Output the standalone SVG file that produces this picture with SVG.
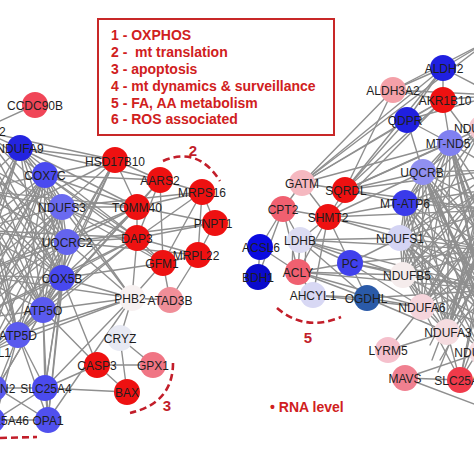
<svg xmlns="http://www.w3.org/2000/svg" width="474" height="474" viewBox="0 0 474 474">
<style>
.e line{stroke:#8f8f8f;stroke-width:1.4;stroke-linecap:round}
.node text{font-family:"Liberation Sans",Arial,sans-serif;font-size:12px;fill:#1e1e1e;text-anchor:middle}
.leg{font-family:"Liberation Sans",Arial,sans-serif;font-size:14px;font-weight:bold;fill:#d02020}
.arc{fill:none;stroke:#c21e2a;stroke-width:2.6;stroke-dasharray:7 4}
.num{font-family:"Liberation Sans",Arial,sans-serif;font-size:15px;font-weight:bold;fill:#c21e2a;text-anchor:middle}
</style>
<rect width="474" height="474" fill="#fff"/>
<g id="connectors" class="e">
<!-- left mesh -->
<line x1="35" y1="105" x2="-15" y2="128"/>
<line x1="20" y1="148" x2="45" y2="175"/><line x1="20" y1="148" x2="62" y2="207"/><line x1="20" y1="148" x2="67" y2="242"/><line x1="20" y1="148" x2="62" y2="278"/><line x1="20" y1="148" x2="43" y2="310"/>
<line x1="45" y1="175" x2="62" y2="207"/><line x1="45" y1="175" x2="67" y2="242"/><line x1="45" y1="175" x2="62" y2="278"/><line x1="45" y1="175" x2="43" y2="310"/><line x1="45" y1="175" x2="18" y2="335"/>
<line x1="62" y1="207" x2="67" y2="242"/><line x1="62" y1="207" x2="62" y2="278"/><line x1="62" y1="207" x2="43" y2="310"/><line x1="62" y1="207" x2="18" y2="335"/>
<line x1="67" y1="242" x2="62" y2="278"/><line x1="67" y1="242" x2="43" y2="310"/><line x1="67" y1="242" x2="18" y2="335"/>
<line x1="62" y1="278" x2="43" y2="310"/><line x1="62" y1="278" x2="18" y2="335"/><line x1="43" y1="310" x2="18" y2="335"/>
<line x1="-18" y1="131" x2="20" y2="148"/><line x1="-18" y1="131" x2="45" y2="175"/><line x1="-18" y1="131" x2="62" y2="207"/><line x1="-18" y1="131" x2="67" y2="242"/><line x1="-18" y1="131" x2="62" y2="278"/><line x1="-18" y1="131" x2="43" y2="310"/>
<line x1="-25" y1="190" x2="20" y2="148"/><line x1="-25" y1="190" x2="45" y2="175"/><line x1="-25" y1="190" x2="62" y2="207"/><line x1="-25" y1="190" x2="67" y2="242"/><line x1="-25" y1="190" x2="62" y2="278"/><line x1="-25" y1="190" x2="43" y2="310"/><line x1="-25" y1="190" x2="18" y2="335"/>
<line x1="-25" y1="230" x2="20" y2="148"/><line x1="-25" y1="230" x2="45" y2="175"/><line x1="-25" y1="230" x2="62" y2="207"/><line x1="-25" y1="230" x2="67" y2="242"/><line x1="-25" y1="230" x2="62" y2="278"/><line x1="-25" y1="230" x2="43" y2="310"/><line x1="-25" y1="230" x2="18" y2="335"/>
<line x1="-25" y1="275" x2="20" y2="148"/><line x1="-25" y1="275" x2="45" y2="175"/><line x1="-25" y1="275" x2="62" y2="207"/><line x1="-25" y1="275" x2="67" y2="242"/><line x1="-25" y1="275" x2="62" y2="278"/><line x1="-25" y1="275" x2="43" y2="310"/><line x1="-25" y1="275" x2="18" y2="335"/>
<line x1="-30" y1="320" x2="45" y2="175"/><line x1="-30" y1="320" x2="62" y2="207"/><line x1="-30" y1="320" x2="67" y2="242"/><line x1="-30" y1="320" x2="62" y2="278"/><line x1="-30" y1="320" x2="43" y2="310"/>
<line x1="-12" y1="352" x2="45" y2="175"/><line x1="-12" y1="352" x2="62" y2="207"/><line x1="-12" y1="352" x2="67" y2="242"/><line x1="-12" y1="352" x2="62" y2="278"/><line x1="-12" y1="352" x2="43" y2="310"/><line x1="-12" y1="352" x2="18" y2="335"/>
<line x1="-25" y1="160" x2="62" y2="207"/><line x1="-25" y1="160" x2="67" y2="242"/><line x1="-25" y1="160" x2="62" y2="278"/><line x1="-25" y1="160" x2="43" y2="310"/><line x1="-25" y1="160" x2="18" y2="335"/>
<line x1="-25" y1="300" x2="20" y2="148"/><line x1="-25" y1="300" x2="45" y2="175"/><line x1="-25" y1="300" x2="62" y2="207"/><line x1="-25" y1="300" x2="67" y2="242"/>
<line x1="-20" y1="210" x2="43" y2="310"/><line x1="-20" y1="210" x2="62" y2="278"/><line x1="-20" y1="250" x2="45" y2="175"/><line x1="-20" y1="250" x2="20" y2="148"/><line x1="-20" y1="340" x2="62" y2="207"/><line x1="-20" y1="340" x2="45" y2="175"/><line x1="-20" y1="145" x2="62" y2="278"/><line x1="-20" y1="145" x2="18" y2="335"/>
<!-- left to cluster 2 -->
<line x1="20" y1="148" x2="115" y2="160"/><line x1="20" y1="148" x2="137" y2="207"/><line x1="20" y1="148" x2="137" y2="238"/><line x1="20" y1="148" x2="160" y2="180"/>
<line x1="45" y1="175" x2="115" y2="160"/><line x1="45" y1="175" x2="137" y2="207"/><line x1="45" y1="175" x2="137" y2="238"/><line x1="45" y1="175" x2="132" y2="298"/><line x1="45" y1="175" x2="160" y2="180"/><line x1="45" y1="175" x2="163" y2="263"/>
<line x1="62" y1="207" x2="115" y2="160"/><line x1="62" y1="207" x2="137" y2="207"/><line x1="62" y1="207" x2="137" y2="238"/><line x1="62" y1="207" x2="132" y2="298"/><line x1="62" y1="207" x2="202" y2="192"/><line x1="62" y1="207" x2="163" y2="263"/>
<line x1="67" y1="242" x2="115" y2="160"/><line x1="67" y1="242" x2="137" y2="207"/><line x1="67" y1="242" x2="137" y2="238"/><line x1="67" y1="242" x2="132" y2="298"/><line x1="67" y1="242" x2="215" y2="223"/><line x1="67" y1="242" x2="198" y2="255"/>
<line x1="62" y1="278" x2="115" y2="160"/><line x1="62" y1="278" x2="137" y2="207"/><line x1="62" y1="278" x2="137" y2="238"/><line x1="62" y1="278" x2="132" y2="298"/><line x1="62" y1="278" x2="163" y2="263"/>
<line x1="43" y1="310" x2="115" y2="160"/><line x1="43" y1="310" x2="137" y2="207"/><line x1="43" y1="310" x2="137" y2="238"/><line x1="43" y1="310" x2="132" y2="298"/><line x1="43" y1="310" x2="160" y2="180"/>
<line x1="18" y1="335" x2="137" y2="207"/><line x1="18" y1="335" x2="137" y2="238"/><line x1="18" y1="335" x2="132" y2="298"/><line x1="18" y1="335" x2="115" y2="160"/>
<line x1="-25" y1="190" x2="137" y2="207"/><line x1="-25" y1="230" x2="137" y2="238"/><line x1="-25" y1="230" x2="115" y2="160"/><line x1="-25" y1="275" x2="132" y2="298"/><line x1="-25" y1="275" x2="137" y2="207"/><line x1="-18" y1="131" x2="115" y2="160"/><line x1="-12" y1="352" x2="132" y2="298"/><line x1="-30" y1="320" x2="137" y2="238"/>
<!-- cluster 2 internal -->
<line x1="115" y1="160" x2="137" y2="207"/><line x1="115" y1="160" x2="160" y2="180"/><line x1="160" y1="180" x2="137" y2="207"/><line x1="160" y1="180" x2="202" y2="192"/><line x1="160" y1="180" x2="137" y2="238"/><line x1="160" y1="180" x2="163" y2="263"/>
<line x1="137" y1="207" x2="202" y2="192"/><line x1="137" y1="207" x2="215" y2="223"/><line x1="137" y1="207" x2="137" y2="238"/><line x1="137" y1="238" x2="202" y2="192"/><line x1="137" y1="238" x2="215" y2="223"/><line x1="137" y1="238" x2="198" y2="255"/><line x1="137" y1="238" x2="163" y2="263"/>
<line x1="163" y1="263" x2="198" y2="255"/><line x1="163" y1="263" x2="170" y2="300"/><line x1="202" y1="192" x2="215" y2="223"/><line x1="202" y1="192" x2="198" y2="255"/><line x1="215" y1="223" x2="198" y2="255"/><line x1="202" y1="192" x2="163" y2="263"/>
<line x1="132" y1="298" x2="170" y2="300"/><line x1="132" y1="298" x2="163" y2="263"/><line x1="132" y1="298" x2="137" y2="238"/><line x1="132" y1="298" x2="120" y2="338"/><line x1="170" y1="300" x2="198" y2="255"/>
<!-- cluster 3 -->
<line x1="120" y1="338" x2="153" y2="365"/><line x1="120" y1="338" x2="127" y2="392"/><line x1="97" y1="365" x2="153" y2="365"/><line x1="97" y1="365" x2="127" y2="392"/><line x1="45" y1="388" x2="127" y2="392"/><line x1="45" y1="388" x2="97" y2="365"/><line x1="97" y1="365" x2="62" y2="278"/><line x1="97" y1="365" x2="43" y2="310"/>
<!-- lower left -->
<line x1="45" y1="388" x2="48" y2="420"/><line x1="-3" y1="388" x2="45" y2="388"/><line x1="-5" y1="420" x2="48" y2="420"/><line x1="-3" y1="388" x2="48" y2="420"/><line x1="-5" y1="420" x2="45" y2="388"/>
<line x1="45" y1="388" x2="43" y2="310"/><line x1="45" y1="388" x2="18" y2="335"/><line x1="45" y1="388" x2="62" y2="278"/><line x1="48" y1="420" x2="43" y2="310"/><line x1="48" y1="420" x2="18" y2="335"/><line x1="48" y1="420" x2="62" y2="278"/>
<line x1="45" y1="388" x2="132" y2="298"/><line x1="48" y1="420" x2="132" y2="298"/><line x1="45" y1="388" x2="67" y2="242"/><line x1="48" y1="420" x2="67" y2="242"/><line x1="-3" y1="388" x2="18" y2="335"/><line x1="-3" y1="388" x2="43" y2="310"/><line x1="-5" y1="420" x2="18" y2="335"/><line x1="-3" y1="388" x2="62" y2="278"/>
<!-- right mesh -->
<line x1="450" y1="143" x2="423" y2="172"/><line x1="450" y1="143" x2="405" y2="203"/><line x1="450" y1="143" x2="400" y2="238"/><line x1="450" y1="143" x2="403" y2="275"/><line x1="450" y1="143" x2="422" y2="307"/><line x1="450" y1="143" x2="447" y2="332"/>
<line x1="450" y1="143" x2="495" y2="170"/><line x1="450" y1="143" x2="495" y2="210"/><line x1="450" y1="143" x2="495" y2="250"/><line x1="450" y1="143" x2="495" y2="290"/>
<line x1="423" y1="172" x2="405" y2="203"/><line x1="423" y1="172" x2="400" y2="238"/><line x1="423" y1="172" x2="403" y2="275"/><line x1="423" y1="172" x2="422" y2="307"/><line x1="423" y1="172" x2="447" y2="332"/>
<line x1="423" y1="172" x2="495" y2="170"/><line x1="423" y1="172" x2="495" y2="210"/><line x1="423" y1="172" x2="495" y2="250"/><line x1="423" y1="172" x2="495" y2="290"/><line x1="423" y1="172" x2="495" y2="325"/>
<line x1="405" y1="203" x2="400" y2="238"/><line x1="405" y1="203" x2="403" y2="275"/><line x1="405" y1="203" x2="422" y2="307"/><line x1="405" y1="203" x2="447" y2="332"/><line x1="405" y1="203" x2="495" y2="170"/><line x1="405" y1="203" x2="495" y2="210"/><line x1="405" y1="203" x2="495" y2="250"/><line x1="405" y1="203" x2="495" y2="290"/><line x1="405" y1="203" x2="495" y2="325"/><line x1="405" y1="203" x2="482" y2="128"/>
<line x1="400" y1="238" x2="403" y2="275"/><line x1="400" y1="238" x2="422" y2="307"/><line x1="400" y1="238" x2="447" y2="332"/><line x1="400" y1="238" x2="495" y2="170"/><line x1="400" y1="238" x2="495" y2="210"/><line x1="400" y1="238" x2="495" y2="250"/><line x1="400" y1="238" x2="495" y2="290"/><line x1="400" y1="238" x2="495" y2="325"/><line x1="400" y1="238" x2="482" y2="352"/>
<line x1="403" y1="275" x2="422" y2="307"/><line x1="403" y1="275" x2="447" y2="332"/><line x1="403" y1="275" x2="495" y2="170"/><line x1="403" y1="275" x2="495" y2="210"/><line x1="403" y1="275" x2="495" y2="250"/><line x1="403" y1="275" x2="495" y2="290"/><line x1="403" y1="275" x2="495" y2="325"/><line x1="403" y1="275" x2="482" y2="128"/>
<line x1="422" y1="307" x2="447" y2="332"/><line x1="422" y1="307" x2="495" y2="170"/><line x1="422" y1="307" x2="495" y2="210"/><line x1="422" y1="307" x2="495" y2="250"/><line x1="422" y1="307" x2="495" y2="290"/><line x1="422" y1="307" x2="495" y2="325"/>
<line x1="447" y1="332" x2="495" y2="210"/><line x1="447" y1="332" x2="495" y2="250"/><line x1="447" y1="332" x2="495" y2="290"/><line x1="447" y1="332" x2="495" y2="170"/>
<line x1="482" y1="128" x2="423" y2="172"/><line x1="482" y1="128" x2="400" y2="238"/><line x1="482" y1="352" x2="405" y2="203"/><line x1="482" y1="352" x2="423" y2="172"/><line x1="482" y1="352" x2="403" y2="275"/>
<line x1="460" y1="380" x2="447" y2="332"/><line x1="460" y1="380" x2="495" y2="290"/><line x1="460" y1="380" x2="495" y2="325"/><line x1="460" y1="380" x2="422" y2="307"/>
<line x1="485" y1="190" x2="405" y2="203"/><line x1="485" y1="190" x2="400" y2="238"/><line x1="485" y1="190" x2="403" y2="275"/><line x1="485" y1="190" x2="422" y2="307"/><line x1="485" y1="190" x2="447" y2="332"/><line x1="485" y1="190" x2="482" y2="352"/>
<line x1="485" y1="270" x2="423" y2="172"/><line x1="485" y1="270" x2="450" y2="143"/><line x1="485" y1="270" x2="400" y2="238"/><line x1="485" y1="270" x2="422" y2="307"/><line x1="485" y1="270" x2="447" y2="332"/><line x1="485" y1="270" x2="460" y2="380"/>
<line x1="485" y1="230" x2="450" y2="143"/><line x1="485" y1="230" x2="403" y2="275"/><line x1="485" y1="230" x2="447" y2="332"/><line x1="485" y1="230" x2="422" y2="307"/><line x1="485" y1="230" x2="482" y2="352"/>
<line x1="485" y1="310" x2="423" y2="172"/><line x1="485" y1="310" x2="405" y2="203"/><line x1="485" y1="310" x2="450" y2="143"/><line x1="485" y1="310" x2="400" y2="238"/>
<line x1="490" y1="160" x2="447" y2="332"/><line x1="490" y1="160" x2="422" y2="307"/><line x1="490" y1="345" x2="450" y2="143"/><line x1="490" y1="345" x2="423" y2="172"/><line x1="490" y1="345" x2="400" y2="238"/>
<line x1="500" y1="180" x2="432" y2="360"/><line x1="500" y1="360" x2="432" y2="185"/><line x1="505" y1="200" x2="430" y2="345"/><line x1="505" y1="330" x2="430" y2="195"/><line x1="500" y1="220" x2="438" y2="372"/><line x1="500" y1="300" x2="436" y2="190"/><line x1="505" y1="250" x2="440" y2="360"/><line x1="505" y1="260" x2="440" y2="185"/>
<line x1="495" y1="215" x2="447" y2="332"/><line x1="495" y1="335" x2="423" y2="172"/><line x1="495" y1="200" x2="460" y2="380"/><line x1="495" y1="280" x2="450" y2="143"/>
<!-- top right -->
<line x1="450" y1="143" x2="443" y2="100"/><line x1="450" y1="143" x2="407" y2="120"/><line x1="423" y1="172" x2="407" y2="120"/><line x1="407" y1="120" x2="495" y2="95"/><line x1="407" y1="120" x2="443" y2="68"/><line x1="407" y1="120" x2="443" y2="100"/>
<line x1="393" y1="90" x2="443" y2="68"/><line x1="393" y1="90" x2="443" y2="100"/><line x1="393" y1="90" x2="495" y2="95"/><line x1="393" y1="90" x2="490" y2="40"/><line x1="443" y1="68" x2="443" y2="100"/><line x1="443" y1="68" x2="490" y2="40"/><line x1="443" y1="68" x2="495" y2="95"/><line x1="443" y1="100" x2="495" y2="95"/><line x1="443" y1="100" x2="495" y2="170"/>
<line x1="393" y1="90" x2="302" y2="183"/><line x1="393" y1="90" x2="345" y2="190"/><line x1="407" y1="120" x2="345" y2="190"/><line x1="407" y1="120" x2="302" y2="183"/><line x1="443" y1="68" x2="302" y2="183"/><line x1="443" y1="100" x2="302" y2="183"/><line x1="443" y1="100" x2="345" y2="190"/><line x1="443" y1="68" x2="345" y2="190"/><line x1="490" y1="40" x2="302" y2="183"/><line x1="450" y1="143" x2="302" y2="183"/><line x1="443" y1="100" x2="328" y2="217"/>
<!-- cluster 5 to right -->
<line x1="345" y1="190" x2="450" y2="143"/><line x1="345" y1="190" x2="423" y2="172"/><line x1="345" y1="190" x2="495" y2="170"/><line x1="345" y1="190" x2="495" y2="210"/><line x1="345" y1="190" x2="482" y2="128"/><line x1="345" y1="190" x2="405" y2="203"/>
<line x1="328" y1="217" x2="405" y2="203"/><line x1="328" y1="217" x2="400" y2="238"/><line x1="328" y1="217" x2="495" y2="210"/><line x1="328" y1="217" x2="495" y2="250"/><line x1="328" y1="217" x2="423" y2="172"/>
<line x1="300" y1="240" x2="400" y2="238"/><line x1="300" y1="240" x2="403" y2="275"/><line x1="300" y1="240" x2="495" y2="250"/><line x1="300" y1="240" x2="495" y2="290"/>
<line x1="350" y1="263" x2="403" y2="275"/><line x1="350" y1="263" x2="422" y2="307"/><line x1="350" y1="263" x2="495" y2="290"/><line x1="350" y1="263" x2="400" y2="238"/><line x1="350" y1="263" x2="495" y2="250"/>
<line x1="298" y1="272" x2="403" y2="275"/><line x1="298" y1="272" x2="495" y2="290"/><line x1="298" y1="272" x2="350" y2="263"/><line x1="298" y1="272" x2="422" y2="307"/>
<line x1="367" y1="298" x2="422" y2="307"/><line x1="367" y1="298" x2="447" y2="332"/><line x1="367" y1="298" x2="495" y2="290"/><line x1="313" y1="295" x2="367" y2="298"/><line x1="313" y1="295" x2="422" y2="307"/>
<line x1="388" y1="350" x2="422" y2="307"/><line x1="388" y1="350" x2="447" y2="332"/><line x1="405" y1="378" x2="482" y2="352"/><line x1="405" y1="378" x2="460" y2="380"/><line x1="405" y1="378" x2="490" y2="410"/>
<!-- cluster 5 internal -->
<line x1="302" y1="183" x2="328" y2="217"/><line x1="302" y1="183" x2="345" y2="190"/><line x1="302" y1="183" x2="283" y2="209"/><line x1="283" y1="209" x2="300" y2="240"/><line x1="283" y1="209" x2="260" y2="247"/><line x1="283" y1="209" x2="298" y2="272"/><line x1="283" y1="209" x2="328" y2="217"/><line x1="283" y1="209" x2="258" y2="277"/>
<line x1="328" y1="217" x2="300" y2="240"/><line x1="328" y1="217" x2="298" y2="272"/><line x1="328" y1="217" x2="350" y2="263"/><line x1="345" y1="190" x2="328" y2="217"/>
<line x1="300" y1="240" x2="298" y2="272"/><line x1="293" y1="240" x2="292" y2="272"/><line x1="306" y1="240" x2="305" y2="272"/><line x1="260" y1="247" x2="258" y2="277"/><line x1="260" y1="247" x2="298" y2="272"/><line x1="298" y1="272" x2="313" y2="295"/>
<line x1="300" y1="240" x2="350" y2="263"/><line x1="350" y1="263" x2="367" y2="298"/><line x1="298" y1="272" x2="367" y2="298"/><line x1="300" y1="240" x2="367" y2="298"/><line x1="328" y1="217" x2="313" y2="295"/>
</g>
<!-- dashed group arcs -->
<path class="arc" d="M163 161 Q198 146 220 181"/>
<path class="arc" d="M173 363 Q173 403 130 413"/>
<path class="arc" d="M277 308 Q305 332 341 317"/>
<path class="arc" d="M0 438 L37 437"/>
<text class="num" x="193" y="156">2</text>
<text class="num" x="167" y="411">3</text>
<text class="num" x="308" y="343">5</text>
<!-- legend -->
<g id="legend">
<rect x="98" y="19" width="236" height="116" fill="#fff" stroke="#c82828" stroke-width="2"/>
<text class="leg" x="111" y="40">1 - OXPHOS</text>
<text class="leg" x="111" y="57" xml:space="preserve">2 -  mt translation</text>
<text class="leg" x="111" y="74">3 - apoptosis</text>
<text class="leg" x="111" y="91">4 - mt dynamics &amp; surveillance</text>
<text class="leg" x="111" y="108">5 - FA, AA metabolism</text>
<text class="leg" x="111" y="124">6 - ROS associated</text>
</g>
<text class="leg" x="270" y="412">• RNA level</text>
<!-- left nodes -->
<g id="n-ccdc90b" class="node"><circle cx="35" cy="105" r="13" fill="#f04658"/><text x="35" y="110">CCDC90B</text></g>
<g id="n-ndufa2" class="node"><circle cx="-18" cy="131" r="13" fill="#5a5aee"/><text x="-18" y="136">NDUFA2</text></g>
<g id="n-ndufa9" class="node"><circle cx="20" cy="148" r="13" fill="#2424e0"/><text x="20" y="153">NDUFA9</text></g>
<g id="n-cox7c" class="node"><circle cx="45" cy="175" r="13" fill="#4a4af0"/><text x="45" y="180">COX7C</text></g>
<g id="n-ndufs3" class="node"><circle cx="62" cy="207" r="13" fill="#6a6af0"/><text x="62" y="212">NDUFS3</text></g>
<g id="n-uqcrc2" class="node"><circle cx="67" cy="242" r="13" fill="#6464ee"/><text x="67" y="247">UQCRC2</text></g>
<g id="n-cox5b" class="node"><circle cx="62" cy="278" r="13" fill="#4848ee"/><text x="62" y="283">COX5B</text></g>
<g id="n-atp5o" class="node"><circle cx="43" cy="310" r="13" fill="#5a5aee"/><text x="43" y="315">ATP5O</text></g>
<g id="n-atp5d" class="node"><circle cx="18" cy="335" r="13" fill="#5a5aee"/><text x="18" y="340">ATP5D</text></g>
<g id="n-yme1l1" class="node"><circle cx="-22" cy="352" r="13" fill="#6a6af0"/><text x="-12" y="357">YME1L1</text></g>
<g id="n-mfn2" class="node"><circle cx="-6" cy="388" r="13" fill="#5a5aee"/><text x="-1" y="393">MFN2</text></g>
<g id="n-slc25a46" class="node"><circle cx="-8" cy="420" r="13" fill="#5050ee"/><text x="0" y="425">SLC25A46</text></g>
<g id="n-slc25a4" class="node"><circle cx="45" cy="388" r="13" fill="#4b4bee"/><text x="46" y="393">SLC25A4</text></g>
<g id="n-opa1" class="node"><circle cx="48" cy="420" r="13" fill="#5050ee"/><text x="48" y="425">OPA1</text></g>
<!-- cluster 2 -->
<g id="n-hsd17b10" class="node"><circle cx="115" cy="160" r="13" fill="#ee1111"/><text x="115" y="166">HSD17B10</text></g>
<g id="n-aars2" class="node"><circle cx="160" cy="180" r="13" fill="#ee1111"/><text x="160" y="185">AARS2</text></g>
<g id="n-mrps16" class="node"><circle cx="202" cy="192" r="13" fill="#ee1111"/><text x="202" y="197">MRPS16</text></g>
<g id="n-tomm40" class="node"><circle cx="137" cy="207" r="13" fill="#ee1111"/><text x="137" y="212">TOMM40</text></g>
<g id="n-pnpt1" class="node"><circle cx="215" cy="223" r="13" fill="#ee1111"/><text x="213" y="228">PNPT1</text></g>
<g id="n-dap3" class="node"><circle cx="137" cy="238" r="13" fill="#ee1111"/><text x="137" y="243">DAP3</text></g>
<g id="n-mrpl22" class="node"><circle cx="198" cy="255" r="13" fill="#ee1111"/><text x="196" y="260">MRPL22</text></g>
<g id="n-gfm1" class="node"><circle cx="163" cy="263" r="13" fill="#ee1111"/><text x="162" y="268">GFM1</text></g>
<g id="n-phb2" class="node"><circle cx="132" cy="298" r="13" fill="#f7f1f1"/><text x="130" y="303">PHB2</text></g>
<g id="n-atad3b" class="node"><circle cx="170" cy="300" r="13" fill="#f08e98"/><text x="170" y="305">ATAD3B</text></g>
<!-- cluster 3 -->
<g id="n-cryz" class="node"><circle cx="120" cy="338" r="13" fill="#e7e9f3"/><text x="120" y="343">CRYZ</text></g>
<g id="n-casp3" class="node"><circle cx="97" cy="365" r="13" fill="#ee1111"/><text x="97" y="370">CASP3</text></g>
<g id="n-gpx1" class="node"><circle cx="153" cy="365" r="13" fill="#f07584"/><text x="153" y="370">GPX1</text></g>
<g id="n-bax" class="node"><circle cx="127" cy="392" r="13" fill="#ee1111"/><text x="127" y="397">BAX</text></g>
<!-- cluster 5 -->
<g id="n-gatm" class="node"><circle cx="302" cy="183" r="13" fill="#f5b8c0"/><text x="302" y="188">GATM</text></g>
<g id="n-sqrdl" class="node"><circle cx="345" cy="190" r="13" fill="#ee1111"/><text x="346" y="195">SQRDL</text></g>
<g id="n-cpt2" class="node"><circle cx="283" cy="209" r="13" fill="#f06070"/><text x="283" y="214">CPT2</text></g>
<g id="n-shmt2" class="node"><circle cx="328" cy="217" r="13" fill="#ee1111"/><text x="328" y="222">SHMT2</text></g>
<g id="n-ldhb" class="node"><circle cx="300" cy="240" r="13" fill="#dcdcf2"/><text x="300" y="245">LDHB</text></g>
<g id="n-acsl6" class="node"><circle cx="260" cy="247" r="13" fill="#0a0ae0"/><text x="261" y="252">ACSL6</text></g>
<g id="n-pc" class="node"><circle cx="350" cy="263" r="13" fill="#4040ec"/><text x="350" y="268">PC</text></g>
<g id="n-acly" class="node"><circle cx="298" cy="272" r="13" fill="#f06070"/><text x="298" y="277">ACLY</text></g>
<g id="n-bdh1" class="node"><circle cx="258" cy="277" r="13" fill="#0a0acc"/><text x="258" y="282">BDH1</text></g>
<g id="n-ahcyl1" class="node"><circle cx="313" cy="295" r="13" fill="#d8d8f4"/><text x="313" y="300">AHCYL1</text></g>
<g id="n-ogdhl" class="node"><circle cx="367" cy="298" r="13" fill="#2a5aa8"/><text x="366" y="303">OGDHL</text></g>
<!-- right nodes -->
<g id="n-aldh2" class="node"><circle cx="443" cy="68" r="13" fill="#2020e0"/><text x="444" y="73">ALDH2</text></g>
<g id="n-aldh3a2" class="node"><circle cx="393" cy="90" r="13" fill="#f4a0a8"/><text x="393" y="95">ALDH3A2</text></g>
<g id="n-akr1b10" class="node"><circle cx="443" cy="100" r="13" fill="#ee1111"/><text x="445" y="105">AKR1B10</text></g>
<g id="n-qdpr" class="node"><circle cx="407" cy="120" r="13" fill="#2020e0"/><text x="405" y="125">QDPR</text></g>
<g id="n-ndufb8" class="node"><circle cx="482" cy="128" r="13" fill="#f5c8d0"/><text x="478" y="133">NDUFB8</text></g>
<g id="n-mt-nd5" class="node"><circle cx="450" cy="143" r="13" fill="#8080f0"/><text x="448" y="148">MT-ND5</text></g>
<g id="n-uqcrb" class="node"><circle cx="423" cy="172" r="13" fill="#9090f0"/><text x="422" y="177">UQCRB</text></g>
<g id="n-mt-atp6" class="node"><circle cx="405" cy="203" r="13" fill="#3a3aea"/><text x="405" y="208">MT-ATP6</text></g>
<g id="n-ndufs1" class="node"><circle cx="400" cy="238" r="13" fill="#d4d4f4"/><text x="400" y="243">NDUFS1</text></g>
<g id="n-ndufb5" class="node"><circle cx="403" cy="275" r="13" fill="#f5ecec"/><text x="407" y="280">NDUFB5</text></g>
<g id="n-ndufa6" class="node"><circle cx="422" cy="307" r="13" fill="#f5d5dc"/><text x="422" y="312">NDUFA6</text></g>
<g id="n-ndufa3" class="node"><circle cx="447" cy="332" r="13" fill="#f5dce0"/><text x="448" y="337">NDUFA3</text></g>
<g id="n-ndufa1" class="node"><circle cx="482" cy="352" r="13" fill="#f5dce0"/><text x="478" y="357">NDUFA1</text></g>
<g id="n-lyrm5" class="node"><circle cx="388" cy="350" r="13" fill="#f5c0cc"/><text x="388" y="355">LYRM5</text></g>
<g id="n-mavs" class="node"><circle cx="405" cy="378" r="13" fill="#f08090"/><text x="405" y="383">MAVS</text></g>
<g id="n-slc25a5" class="node"><circle cx="460" cy="380" r="13" fill="#f03a4a"/><text x="460" y="385">SLC25A5</text></g>
</svg>
